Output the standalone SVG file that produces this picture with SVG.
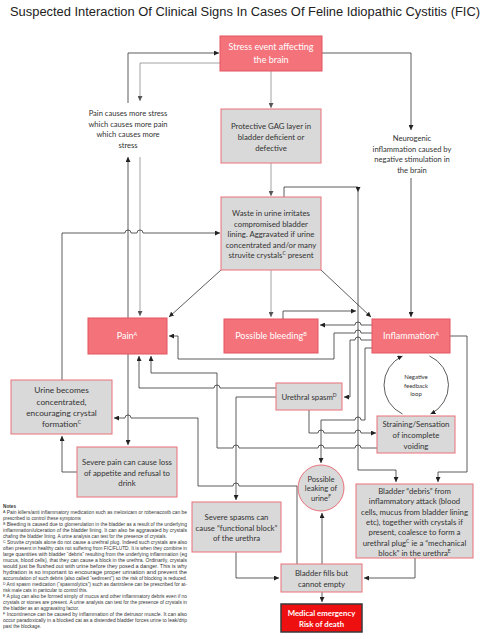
<svg xmlns="http://www.w3.org/2000/svg" width="490" height="639" viewBox="0 0 490 639">
<defs>
<marker id="ar" viewBox="0 0 6 6" refX="6" refY="3" markerWidth="5" markerHeight="5" markerUnits="userSpaceOnUse" orient="auto"><path d="M0,0 L6,3 L0,6 z" fill="#222"/></marker>
<marker id="arl" viewBox="0 0 6 6" refX="6" refY="3" markerWidth="5" markerHeight="5" markerUnits="userSpaceOnUse" orient="auto"><path d="M0,0 L6,3 L0,6 z" fill="#555"/></marker>
</defs>
<style>
.red{fill:#f4737b;stroke:#e35560;stroke-width:1}
.grey{fill:#d9d9d9;stroke:#e8707a;stroke-width:1}
.tw{font-family:Lato,"Open Sans",sans-serif;fill:#fff;text-anchor:middle}
.td{font-family:Lato,"Open Sans",sans-serif;fill:#333;text-anchor:middle}
.c{fill:none;stroke:#333;stroke-width:0.8;marker-end:url(#ar)}
.cl{fill:none;stroke:#8c8c8c;stroke-width:0.8;marker-end:url(#arl)}
.cn{fill:none;stroke:#333;stroke-width:0.8}
.n{font-family:"Liberation Sans",Arial,sans-serif;font-size:4.7px;fill:#333}
.s{font-size:3.4px}
</style>
<rect width="490" height="639" fill="#fff"/>
<text x="245" y="16" font-family="Liberation Sans,Arial,sans-serif" font-size="12.5" fill="#222" text-anchor="middle" textLength="470" lengthAdjust="spacingAndGlyphs">Suspected Interaction Of Clinical Signs In Cases Of Feline Idiopathic Cystitis (FIC)</text>

<g id="connectors">
<path class="c" d="M128,318 V157"/>
<path class="c" d="M128,103 V53 H219"/>
<path class="cl" d="M220,63 H140 V101"/>
<path class="cl" d="M140,157 V316"/>
<path class="cl" d="M271,71 V108"/>
<path class="cl" d="M271,163 V196"/>
<path class="c" d="M322,53 H411 V130"/>
<path class="c" d="M411,178 V317"/>
<path class="c" d="M62,380 V233 H125 a3,3 0 0 1 6,0 H137 a3,3 0 0 1 6,0 H220"/>
<path class="c" d="M221,270 L169,317"/>
<path class="cl" d="M271,270 V317"/>
<path class="c" d="M321,270 L371,317"/>
<path class="c" d="M284,197 V187 H358 V192"/>
<path class="c" d="M358,192 V470 H396 V482"/>
<path class="c" d="M283,319 V311 H356"/>
<path class="c" d="M372,325 H361 a3,3 0 0 0 -6,0 H320"/>
<path class="c" d="M372,333 H361 a3,3 0 0 0 -6,0 H334 V359 H178 V336 H169"/>
<path class="c" d="M372,340 H361 a3,3 0 0 0 -6,0 H350 V397 H344"/>
<path class="c" d="M372,348 H365 V420 H361 a3,3 0 0 0 -6,0 H321 V463"/>
<path class="c" d="M450,336 H467 V472 H438 V482"/>
<path class="c" d="M402.5,414 A32,32 0 0 1 402.5,356"/>
<path class="c" d="M429.5,356 A32,32 0 0 1 430.5,414"/>
<path class="c" d="M276,388 H220 a3,3 0 0 0 -6,0 H139 V356"/>
<path class="c" d="M276,397 H236 V500"/>
<path class="c" d="M309,410 V433 H318 a3,3 0 0 1 6,0 H355 a3,3 0 0 1 6,0 H376"/>
<path class="c" d="M377,448 H361 a3,3 0 0 0 -6,0 H324 a3,3 0 0 0 -6,0 H239 a3,3 0 0 0 -6,0 H217 V373 H151 V356"/>
<path class="c" d="M128,354 V445"/>
<path class="c" d="M77,472 H62 V436"/>
<path class="c" d="M297,564 V486 H239 a3,3 0 0 0 -6,0 H198 V418 H131 a3,3 0 0 0 -6,0 H114"/>
<path class="c" d="M322,564 V513"/>
<path class="c" d="M236,552 V578 H279"/>
<path class="c" d="M415,558 V578 H364"/>
<path class="c" d="M322,592 V602"/>
</g>

<g id="stress">
<rect class="red" x="220" y="36" width="102" height="35"/>
<text class="tw" font-size="9"><tspan x="271" y="50">Stress event affecting</tspan><tspan x="271" y="63">the brain</tspan></text>
</g>
<g id="pain-stress-text">
<rect x="84" y="104" width="88" height="52" fill="#fff"/>
<text class="td" font-size="7.6"><tspan x="128" y="116">Pain causes more stress</tspan><tspan x="128" y="126.5">which causes more pain</tspan><tspan x="128" y="137">which causes more</tspan><tspan x="128" y="147.5">stress</tspan></text>
</g>
<g id="gag">
<rect class="grey" x="221" y="109" width="100" height="54"/>
<text class="td" font-size="7.8"><tspan x="271" y="129">Protective GAG layer in</tspan><tspan x="271" y="140">bladder deficient or</tspan><tspan x="271" y="150.5">defective</tspan></text>
</g>
<g id="neurogenic">
<text class="td" font-size="7.6"><tspan x="412" y="141">Neurogenic</tspan><tspan x="412" y="151.5">inflammation caused by</tspan><tspan x="412" y="162">negative stimulation in</tspan><tspan x="412" y="172.5">the brain</tspan></text>
</g>
<g id="waste">
<rect class="grey" x="221" y="197" width="100" height="73"/>
<text class="td" font-size="7.8"><tspan x="271" y="216">Waste in urine irritates</tspan><tspan x="271" y="226.5">compromised bladder</tspan><tspan x="271" y="237">lining. Aggravated if urine</tspan><tspan x="271" y="247.5">concentrated and/or many</tspan><tspan x="271" y="258">struvite crystals<tspan font-size="5" dy="-3">C</tspan><tspan dy="3"> present</tspan></tspan></text>
</g>
<g id="pain">
<rect class="red" x="88" y="318" width="79" height="36"/>
<text class="tw" font-size="9" x="127" y="339">Pain<tspan font-size="5.5" dy="-3.5">A</tspan></text>
</g>
<g id="bleeding">
<rect class="red" x="224" y="319" width="94" height="34"/>
<text class="tw" font-size="9" x="271" y="339">Possible bleeding<tspan font-size="5.5" dy="-3.5">B</tspan></text>
</g>
<g id="inflammation">
<rect class="red" x="372" y="319" width="78" height="34"/>
<text class="tw" font-size="9" x="411" y="339">Inflammation<tspan font-size="5.5" dy="-3.5">A</tspan></text>
</g>
<g id="feedback">
<text class="td" font-size="6"><tspan x="416" y="379">Negative</tspan><tspan x="416" y="387.5">feedback</tspan><tspan x="416" y="396">loop</tspan></text>
</g>
<g id="urine">
<rect class="grey" x="11" y="380" width="101" height="54"/>
<text class="td" font-size="8.3"><tspan x="61.5" y="393">Urine becomes</tspan><tspan x="61.5" y="404.5">concentrated,</tspan><tspan x="61.5" y="415.5">encouraging crystal</tspan><tspan x="61.5" y="426.5">formation<tspan font-size="5" dy="-3">C</tspan></tspan></text>
</g>
<g id="urethral-spasm">
<rect class="grey" x="276" y="383" width="66" height="27"/>
<text class="td" font-size="7.8" x="309" y="400">Urethral spasm<tspan font-size="5" dy="-3">D</tspan></text>
</g>
<g id="straining">
<rect class="grey" x="377" y="416" width="78" height="37"/>
<text class="td" font-size="7.8"><tspan x="416" y="427">Straining/Sensation</tspan><tspan x="416" y="438">of incomplete</tspan><tspan x="416" y="449">voiding</tspan></text>
</g>
<g id="severe-pain">
<rect class="grey" x="77" y="447" width="100" height="50"/>
<text class="td" font-size="7.8"><tspan x="127" y="465">Severe pain can cause loss</tspan><tspan x="127" y="475.5">of appetite and refusal to</tspan><tspan x="127" y="486">drink</tspan></text>
</g>
<g id="leak">
<circle class="grey" cx="321" cy="488" r="23"/>
<text class="td" font-size="7.6"><tspan x="321" y="482">Possible</tspan><tspan x="321" y="491">leaking of</tspan><tspan x="321" y="501">urine<tspan font-size="5" dy="-3">F</tspan></tspan></text>
</g>
<g id="severe-spasms">
<rect class="grey" x="192" y="502" width="89" height="50"/>
<text class="td" font-size="7.8"><tspan x="236.5" y="520">Severe spasms can</tspan><tspan x="236.5" y="530.5">cause “functional block”</tspan><tspan x="236.5" y="541">of the urethra</tspan></text>
</g>
<g id="debris">
<rect class="grey" x="356" y="484" width="117" height="74"/>
<text class="td" font-size="7.8"><tspan x="414.5" y="494">Bladder “debris” from</tspan><tspan x="414.5" y="504.3">inflammatory attack (blood</tspan><tspan x="414.5" y="514.6">cells, mucus from bladder lining</tspan><tspan x="414.5" y="524.9">etc), together with crystals if</tspan><tspan x="414.5" y="535.2">present, coalesce to form a</tspan><tspan x="414.5" y="545.5">urethral plug<tspan font-size="5" dy="-3">C</tspan><tspan dy="3"> ie a “mechanical</tspan></tspan><tspan x="414.5" y="555.8">block” in the urethra<tspan font-size="5" dy="-3">E</tspan></tspan></text>
</g>
<g id="bladder-fills">
<rect class="grey" x="281" y="564" width="81" height="28"/>
<text class="td" font-size="7.8"><tspan x="321.5" y="576">Bladder fills but</tspan><tspan x="321.5" y="586.5">cannot empty</tspan></text>
</g>
<g id="emergency">
<rect x="281" y="604" width="81" height="28" fill="#ee1010" stroke="#3a3a3a" stroke-width="1.5"/>
<text class="tw" font-size="7.8" font-weight="bold"><tspan x="321.5" y="616">Medical emergency</tspan><tspan x="321.5" y="626.5">Risk of death</tspan></text>
</g>

<g id="notes">
<text class="n" x="3" y="508" font-weight="bold">Notes</text>
<text class="n" x="3" y="514" textLength="184" lengthAdjust="spacingAndGlyphs"><tspan class="s" dy="-1.5">A</tspan><tspan dy="1.5"> Pain killers/anti inflammatory medication such as meloxicam or robenacoxib can be</tspan></text>
<text class="n" x="3" y="520">prescribed to control these symptoms</text>
<text class="n" x="3" y="526" textLength="184" lengthAdjust="spacingAndGlyphs"><tspan class="s" dy="-1.5">B</tspan><tspan dy="1.5"> Bleeding is caused due to glomerulation in the bladder as a result of the underlying</tspan></text>
<text class="n" x="3" y="532" textLength="184" lengthAdjust="spacingAndGlyphs">inflammation/ulceration of the bladder lining.  It can also be aggravated by crystals</text>
<text class="n" x="3" y="538">chafing the bladder lining.  A urine analysis can test for the presence of crystals.</text>
<text class="n" x="3" y="544" textLength="184" lengthAdjust="spacingAndGlyphs"><tspan class="s" dy="-1.5">C</tspan><tspan dy="1.5"> Struvite crystals alone do not cause a urethral plug. Indeed such crystals are also</tspan></text>
<text class="n" x="3" y="550" textLength="184" lengthAdjust="spacingAndGlyphs">often present in healthy cats not suffering from FIC/FLUTD. It is when they combine in</text>
<text class="n" x="3" y="556" textLength="184" lengthAdjust="spacingAndGlyphs">large quantities with bladder “debris” resulting from the underlying inflammation (eg</text>
<text class="n" x="3" y="562" textLength="184" lengthAdjust="spacingAndGlyphs">mucus, blood cells), that they can cause a block in the urethra. Ordinarily, crystals</text>
<text class="n" x="3" y="568" textLength="184" lengthAdjust="spacingAndGlyphs">would just be flushed out with urine before they posed a danger. This is why</text>
<text class="n" x="3" y="574" textLength="184" lengthAdjust="spacingAndGlyphs">hydration is so important to encourage proper urination and prevent the</text>
<text class="n" x="3" y="580" textLength="184" lengthAdjust="spacingAndGlyphs">accumulation of such debris (also called “sediment”) so the risk of blocking is reduced.</text>
<text class="n" x="3" y="586" textLength="184" lengthAdjust="spacingAndGlyphs"><tspan class="s" dy="-1.5">D</tspan><tspan dy="1.5"> Anti spasm medication (“spasmolytics”) such as dantrolene can be prescribed for at-</tspan></text>
<text class="n" x="3" y="592">risk male cats in particular to control this.</text>
<text class="n" x="3" y="598" textLength="184" lengthAdjust="spacingAndGlyphs"><tspan class="s" dy="-1.5">E</tspan><tspan dy="1.5"> A plug can also be formed simply of mucus and other inflammatory debris even if no</tspan></text>
<text class="n" x="3" y="604" textLength="184" lengthAdjust="spacingAndGlyphs">crystals or stones are present. A urine analysis can test for the presence of crystals in</text>
<text class="n" x="3" y="610">the bladder as an aggravating factor.</text>
<text class="n" x="3" y="616" textLength="184" lengthAdjust="spacingAndGlyphs"><tspan class="s" dy="-1.5">F</tspan><tspan dy="1.5"> Incontinence can be caused by inflammation of the detrusor muscle.  It can also</tspan></text>
<text class="n" x="3" y="622" textLength="184" lengthAdjust="spacingAndGlyphs">occur paradoxically in a blocked cat as a distended bladder forces urine to leak/drip</text>
<text class="n" x="3" y="628">past the blockage.</text>
</g>
</svg>
